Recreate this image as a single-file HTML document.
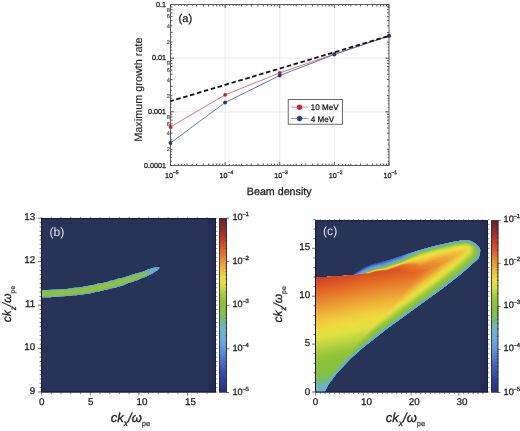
<!DOCTYPE html>
<html><head><meta charset="utf-8"><title>Growth rate figure</title>
<style>html,body{margin:0;padding:0;background:#fff;width:520px;height:431px;overflow:hidden}svg{display:block}text{text-rendering:geometricPrecision}</style>
</head><body><svg width="520" height="431" viewBox="0 0 520 431"><defs><linearGradient id="cm" x1="0" y1="1" x2="0" y2="0"><stop offset="0.000" stop-color="rgb(38,50,128)"/><stop offset="0.072" stop-color="rgb(47,64,158)"/><stop offset="0.130" stop-color="rgb(56,86,182)"/><stop offset="0.188" stop-color="rgb(75,115,205)"/><stop offset="0.249" stop-color="rgb(95,150,220)"/><stop offset="0.304" stop-color="rgb(105,170,225)"/><stop offset="0.362" stop-color="rgb(108,180,205)"/><stop offset="0.390" stop-color="rgb(110,182,170)"/><stop offset="0.420" stop-color="rgb(115,185,120)"/><stop offset="0.449" stop-color="rgb(128,192,80)"/><stop offset="0.500" stop-color="rgb(136,192,60)"/><stop offset="0.536" stop-color="rgb(144,196,60)"/><stop offset="0.565" stop-color="rgb(168,204,64)"/><stop offset="0.594" stop-color="rgb(200,216,64)"/><stop offset="0.622" stop-color="rgb(224,224,64)"/><stop offset="0.651" stop-color="rgb(238,220,64)"/><stop offset="0.680" stop-color="rgb(240,204,60)"/><stop offset="0.709" stop-color="rgb(240,184,58)"/><stop offset="0.738" stop-color="rgb(236,160,53)"/><stop offset="0.767" stop-color="rgb(232,136,48)"/><stop offset="0.796" stop-color="rgb(228,112,40)"/><stop offset="0.825" stop-color="rgb(220,90,40)"/><stop offset="0.854" stop-color="rgb(208,69,37)"/><stop offset="0.883" stop-color="rgb(192,58,37)"/><stop offset="0.912" stop-color="rgb(168,48,40)"/><stop offset="0.940" stop-color="rgb(144,42,46)"/><stop offset="0.970" stop-color="rgb(122,37,48)"/><stop offset="1.000" stop-color="rgb(106,32,48)"/></linearGradient></defs><rect x="0" y="0" width="520" height="431" fill="#fff"/><path d="M225.12 4.5V165.5M279.75 4.5V165.5M334.38 4.5V165.5M170.5 111.83H389.0M170.5 58.17H389.0" stroke="#e6e6e6" stroke-width="0.8" fill="none"/><path d="M170.50 165.5v-3.5M170.50 4.5v3.5M174.83 165.5v-1.3M174.83 4.5v1.3M178.48 165.5v-1.3M178.48 4.5v1.3M181.65 165.5v-1.3M181.65 4.5v1.3M184.44 165.5v-1.3M184.44 4.5v1.3M186.94 165.5v-2M186.94 4.5v2M192.24 165.5v-1.3M192.24 4.5v1.3M196.56 165.5v-2M196.56 4.5v2M203.39 165.5v-2M203.39 4.5v2M208.68 165.5v-2M208.68 4.5v2M213.01 165.5v-2M213.01 4.5v2M216.66 165.5v-2M216.66 4.5v2M219.83 165.5v-2M219.83 4.5v2M222.63 165.5v-2M222.63 4.5v2M225.12 165.5v-3.5M225.12 4.5v3.5M229.45 165.5v-1.3M229.45 4.5v1.3M233.11 165.5v-1.3M233.11 4.5v1.3M236.28 165.5v-1.3M236.28 4.5v1.3M239.07 165.5v-1.3M239.07 4.5v1.3M241.57 165.5v-2M241.57 4.5v2M246.86 165.5v-1.3M246.86 4.5v1.3M251.19 165.5v-2M251.19 4.5v2M258.01 165.5v-2M258.01 4.5v2M263.31 165.5v-2M263.31 4.5v2M267.63 165.5v-2M267.63 4.5v2M271.29 165.5v-2M271.29 4.5v2M274.46 165.5v-2M274.46 4.5v2M277.25 165.5v-2M277.25 4.5v2M279.75 165.5v-3.5M279.75 4.5v3.5M284.08 165.5v-1.3M284.08 4.5v1.3M287.73 165.5v-1.3M287.73 4.5v1.3M290.90 165.5v-1.3M290.90 4.5v1.3M293.69 165.5v-1.3M293.69 4.5v1.3M296.19 165.5v-2M296.19 4.5v2M301.49 165.5v-1.3M301.49 4.5v1.3M305.81 165.5v-2M305.81 4.5v2M312.64 165.5v-2M312.64 4.5v2M317.93 165.5v-2M317.93 4.5v2M322.26 165.5v-2M322.26 4.5v2M325.91 165.5v-2M325.91 4.5v2M329.08 165.5v-2M329.08 4.5v2M331.88 165.5v-2M331.88 4.5v2M334.38 165.5v-3.5M334.38 4.5v3.5M338.70 165.5v-1.3M338.70 4.5v1.3M342.36 165.5v-1.3M342.36 4.5v1.3M345.53 165.5v-1.3M345.53 4.5v1.3M348.32 165.5v-1.3M348.32 4.5v1.3M350.82 165.5v-2M350.82 4.5v2M356.11 165.5v-1.3M356.11 4.5v1.3M360.44 165.5v-2M360.44 4.5v2M367.26 165.5v-2M367.26 4.5v2M372.56 165.5v-2M372.56 4.5v2M376.88 165.5v-2M376.88 4.5v2M380.54 165.5v-2M380.54 4.5v2M383.71 165.5v-2M383.71 4.5v2M386.50 165.5v-2M386.50 4.5v2M389.00 165.5v-3.5M389.00 4.5v3.5M170.5 165.50h3.5M389.0 165.50h-3.5M170.5 161.25h1.3M389.0 161.25h-1.3M170.5 157.66h1.3M389.0 157.66h-1.3M170.5 154.55h1.3M389.0 154.55h-1.3M170.5 151.80h1.3M389.0 151.80h-1.3M170.5 149.34h2M389.0 149.34h-2M170.5 144.14h1.3M389.0 144.14h-1.3M170.5 139.89h2M389.0 139.89h-2M170.5 133.19h2M389.0 133.19h-2M170.5 127.99h2M389.0 127.99h-2M170.5 123.74h2M389.0 123.74h-2M170.5 120.15h2M389.0 120.15h-2M170.5 117.03h2M389.0 117.03h-2M170.5 114.29h2M389.0 114.29h-2M170.5 111.83h3.5M389.0 111.83h-3.5M170.5 107.58h1.3M389.0 107.58h-1.3M170.5 103.99h1.3M389.0 103.99h-1.3M170.5 100.88h1.3M389.0 100.88h-1.3M170.5 98.13h1.3M389.0 98.13h-1.3M170.5 95.68h2M389.0 95.68h-2M170.5 90.48h1.3M389.0 90.48h-1.3M170.5 86.23h2M389.0 86.23h-2M170.5 79.52h2M389.0 79.52h-2M170.5 74.32h2M389.0 74.32h-2M170.5 70.07h2M389.0 70.07h-2M170.5 66.48h2M389.0 66.48h-2M170.5 63.37h2M389.0 63.37h-2M170.5 60.62h2M389.0 60.62h-2M170.5 58.17h3.5M389.0 58.17h-3.5M170.5 53.92h1.3M389.0 53.92h-1.3M170.5 50.32h1.3M389.0 50.32h-1.3M170.5 47.21h1.3M389.0 47.21h-1.3M170.5 44.47h1.3M389.0 44.47h-1.3M170.5 42.01h2M389.0 42.01h-2M170.5 36.81h1.3M389.0 36.81h-1.3M170.5 32.56h2M389.0 32.56h-2M170.5 25.86h2M389.0 25.86h-2M170.5 20.66h2M389.0 20.66h-2M170.5 16.41h2M389.0 16.41h-2M170.5 12.81h2M389.0 12.81h-2M170.5 9.70h2M389.0 9.70h-2M170.5 6.96h2M389.0 6.96h-2" stroke="#222" stroke-width="0.8" fill="none"/><rect x="170.5" y="4.5" width="218.5" height="161.0" fill="none" stroke="#555" stroke-width="0.95"/><g style="font-family:'Liberation Sans',Arial,sans-serif;font-size:5.6px" fill="#444" stroke="#444" stroke-width="0.15" text-anchor="end"><text x="169.90" y="151.34">2</text><text x="169.90" y="135.19">4</text><text x="169.90" y="125.74">6</text><text x="169.90" y="119.03">8</text><text x="169.90" y="97.68">2</text><text x="169.90" y="81.52">4</text><text x="169.90" y="72.07">6</text><text x="169.90" y="65.37">8</text><text x="169.90" y="44.01">2</text><text x="169.90" y="27.86">4</text><text x="169.90" y="18.41">6</text><text x="169.90" y="11.70">8</text></g><g style="font-family:'Liberation Sans',Arial,sans-serif;font-size:7.2px" fill="#1a1a1a" stroke="#1a1a1a" stroke-width="0.28" text-anchor="end"><text x="166.00" y="6.60">0.1</text><text x="166.00" y="60.27">0.01</text><text x="166.00" y="113.93">0.001</text><text x="166.00" y="167.60">0.0001</text></g><g style="font-family:'Liberation Sans',Arial,sans-serif;font-size:7.2px" fill="#1a1a1a" stroke="#1a1a1a" stroke-width="0.28"><text x="164.90" y="178.00">10<tspan dy="-3.6" style="font-size:5px">&#8722;5</tspan></text><text x="219.53" y="178.00">10<tspan dy="-3.6" style="font-size:5px">&#8722;4</tspan></text><text x="274.15" y="178.00">10<tspan dy="-3.6" style="font-size:5px">&#8722;3</tspan></text><text x="328.77" y="178.00">10<tspan dy="-3.6" style="font-size:5px">&#8722;2</tspan></text><text x="383.40" y="178.00">10<tspan dy="-3.6" style="font-size:5px">&#8722;1</tspan></text></g><text x="279.2" y="194.8" text-anchor="middle" style="font-family:'Liberation Sans',Arial,sans-serif;font-size:10.7px" fill="#1a1a1a" stroke="#1a1a1a" stroke-width="0.28">Beam density</text><text transform="translate(142.0 89.6) rotate(-90)" text-anchor="middle" style="font-family:'Liberation Sans',Arial,sans-serif;font-size:10.85px" fill="#1a1a1a" stroke="#1a1a1a" stroke-width="0.12">Maximum growth rate</text><text x="178.5" y="22.4" style="font-family:'Liberation Sans',Arial,sans-serif;font-size:11.2px" fill="#1a1a1a" stroke="#1a1a1a" stroke-width="0.28">(a)</text><path d="M170.50 126.91L225.12 94.82L279.75 72.92L334.38 54.09L389.00 35.73" stroke="#e06060" stroke-width="0.9" fill="none"/><path d="M170.50 143.01L225.12 102.50L279.75 75.50L334.38 54.52L389.00 35.90" stroke="#4a6ab0" stroke-width="0.9" fill="none"/><circle cx="170.50" cy="126.91" r="1.9" fill="#b8262e"/><circle cx="225.12" cy="94.82" r="1.9" fill="#b8262e"/><circle cx="279.75" cy="72.92" r="1.9" fill="#b8262e"/><circle cx="334.38" cy="54.09" r="1.9" fill="#b8262e"/><circle cx="389.00" cy="35.73" r="1.9" fill="#b8262e"/><circle cx="170.50" cy="143.01" r="1.9" fill="#24388a"/><circle cx="225.12" cy="102.50" r="1.9" fill="#24388a"/><circle cx="279.75" cy="75.50" r="1.9" fill="#24388a"/><circle cx="334.38" cy="54.52" r="1.9" fill="#24388a"/><circle cx="389.00" cy="35.90" r="1.9" fill="#24388a"/><path d="M170.5 101.2L389.0 35.9" stroke="#111" stroke-dasharray="4.6 2.6" stroke-dashoffset="1.2" stroke-width="1.8" fill="none"/><rect x="288.2" y="99.6" width="54.4" height="24.6" fill="#fff" stroke="#444" stroke-width="0.8"/><path d="M291 107.2H308.3" stroke="#e88a8a" stroke-width="0.9"/><circle cx="299.6" cy="107.2" r="2.7" fill="#d42630"/><path d="M291 118.5H308.3" stroke="#7088c0" stroke-width="0.9"/><circle cx="299.6" cy="118.5" r="2.7" fill="#2a3f8f"/><g style="font-family:'Liberation Sans',Arial,sans-serif;font-size:8.1px" fill="#1a1a1a" stroke="#1a1a1a" stroke-width="0.28"><text x="310.8" y="110.2">10 MeV</text><text x="310.8" y="121.5">4 MeV</text></g><rect x="41.0" y="218.0" width="175.0" height="174.5" fill="#283358"/><rect x="315.0" y="220.2" width="173.0" height="172.3" fill="#283358"/><rect x="208.0" y="218.0" width="8" height="174.5" fill="#1a2248" opacity="0.3"/><rect x="480.0" y="220.2" width="8" height="172.3" fill="#1a2248" opacity="0.3"/><defs><clipPath id="clipb"><rect x="41.0" y="218.0" width="175.0" height="174.5"/></clipPath><filter id="blb" x="-5%" y="-5%" width="110%" height="110%"><feGaussianBlur stdDeviation="0.45"/></filter></defs><g clip-path="url(#clipb)"><g filter="url(#blb)"><path d="M159.5 267.8 158.5 267.2 153.8 267.8 147.2 269.8 143.8 271.5 135.2 273.8 123.2 277.8 117.8 278.8 112.2 280.8 110.2 280.8 106.8 282.2 104.8 282.2 102.5 283.2 97.2 283.8 94.8 284.8 90.8 285.2 89.2 285.8 85.2 286.2 83.8 286.8 77.5 287.8 74.5 287.8 65.5 289.2 41.2 290.2 41.2 297.2 51.2 297.2 51.5 296.8 57.8 296.8 58.2 296.5 70.8 295.8 73.5 295.2 76.2 295.2 90.5 293.2 91.8 292.5 93.8 292.5 97.2 291.5 99.2 291.5 100.5 290.8 102.5 290.8 104.8 289.8 106.8 289.8 110.2 288.5 115.5 287.5 123.2 285.2 128.8 282.8 132.8 281.8 135.2 280.5 137.2 280.2 142.8 277.5 143.8 277.5 152.8 273.2 155.5 271.2 157.2 270.5Z" fill="#5d93db" fill-rule="evenodd"/><path d="M159.5 267.8 158.5 267.2 153.8 267.8 147.2 269.8 143.8 271.5 135.2 273.8 123.2 277.8 117.8 278.8 112.2 280.8 110.2 280.8 106.8 282.2 104.8 282.2 102.5 283.2 97.2 283.8 94.8 284.8 90.8 285.2 89.2 285.8 85.2 286.2 83.8 286.8 77.5 287.8 74.5 287.8 65.5 289.2 41.2 290.2 41.2 297.2 51.2 297.2 51.5 296.8 57.8 296.8 58.2 296.5 70.8 295.8 73.5 295.2 76.2 295.2 90.5 293.2 91.8 292.5 93.8 292.5 97.2 291.5 99.2 291.5 100.5 290.8 102.5 290.8 104.8 289.8 106.8 289.8 110.2 288.5 115.5 287.5 123.2 285.2 128.8 282.8 132.8 281.8 135.2 280.5 137.2 280.2 142.8 277.5 143.8 277.5 152.8 273.2 155.5 271.2 157.2 270.5Z" fill="#6099dd" fill-rule="evenodd"/><path d="M159.5 267.8 158.5 267.2 153.8 267.8 147.2 269.8 143.8 271.5 135.2 273.8 123.2 277.8 117.8 278.8 112.2 280.8 110.2 280.8 106.8 282.2 104.8 282.2 102.5 283.2 97.2 283.8 94.8 284.8 90.8 285.2 89.2 285.8 85.2 286.2 83.8 286.8 77.5 287.8 74.5 287.8 65.5 289.2 41.2 290.2 41.2 297.2 51.2 297.2 51.5 296.8 57.8 296.8 58.2 296.5 70.8 295.8 73.5 295.2 76.2 295.2 90.5 293.2 91.8 292.5 93.8 292.5 97.2 291.5 99.2 291.5 100.5 290.8 102.5 290.8 104.8 289.8 106.8 289.8 110.2 288.5 115.5 287.5 123.2 285.2 128.8 282.8 132.8 281.8 135.2 280.5 137.2 280.2 142.8 277.5 143.8 277.5 152.8 273.2 155.5 271.2 157.2 270.5Z" fill="#639dde" fill-rule="evenodd"/><path d="M159.5 267.8 158.5 267.2 153.8 267.8 147.2 269.8 143.8 271.5 135.2 273.8 123.2 277.8 117.8 278.8 112.2 280.8 110.2 280.8 106.8 282.2 104.8 282.2 102.5 283.2 97.2 283.8 94.8 284.8 90.8 285.2 89.2 285.8 85.2 286.2 83.8 286.8 77.5 287.8 74.5 287.8 65.5 289.2 41.2 290.2 41.2 297.2 51.2 297.2 51.5 296.8 57.8 296.8 58.2 296.5 70.8 295.8 73.5 295.2 76.2 295.2 90.5 293.2 91.8 292.5 93.8 292.5 97.2 291.5 99.2 291.5 100.5 290.8 102.5 290.8 104.8 289.8 106.8 289.8 110.2 288.5 115.5 287.5 123.2 285.2 128.8 282.8 132.8 281.8 135.2 280.5 137.2 280.2 142.8 277.5 143.8 277.5 152.8 273.2 155.5 271.2 157.2 270.5Z" fill="#65a2df" fill-rule="evenodd"/><path d="M159.5 267.8 158.5 267.2 153.8 267.8 147.2 269.8 143.8 271.5 135.2 273.8 123.2 277.8 117.8 278.8 112.2 280.8 110.2 280.8 106.8 282.2 104.8 282.2 102.5 283.2 97.2 283.8 94.8 284.8 90.8 285.2 89.2 285.8 85.2 286.2 83.8 286.8 77.5 287.8 74.5 287.8 65.5 289.2 41.2 290.2 41.2 297.2 51.2 297.2 51.5 296.8 57.8 296.8 58.2 296.5 70.8 295.8 73.5 295.2 76.2 295.2 90.5 293.2 91.8 292.5 93.8 292.5 97.2 291.5 99.2 291.5 100.5 290.8 102.5 290.8 104.8 289.8 106.8 289.8 110.2 288.5 115.5 287.5 123.2 285.2 128.8 282.8 132.8 281.8 135.2 280.5 137.2 280.2 142.8 277.5 143.8 277.5 152.8 273.2 155.5 271.2 157.2 270.5Z" fill="#67a6e0" fill-rule="evenodd"/><path d="M158.2 268.2 156.2 268.2 147.5 270.5 144.2 272.2 121.2 279.2 118.2 279.5 112.5 281.5 110.5 281.5 107.2 282.8 105.2 282.8 102.8 283.8 97.5 284.5 95.2 285.5 91.2 285.8 89.5 286.5 85.5 286.8 84.2 287.5 77.8 288.5 74.8 288.5 65.8 289.8 41.2 290.8 41.2 296.5 50.8 296.5 51.2 296.2 57.5 296.2 57.8 295.8 70.5 295.2 73.2 294.5 75.8 294.5 90.2 292.5 91.5 291.8 93.5 291.8 96.8 290.8 98.8 290.8 100.2 290.2 102.2 290.2 104.5 289.2 106.5 289.2 109.8 287.8 115.2 286.8 122.8 284.5 128.5 282.2 132.5 281.2 134.8 279.8 136.8 279.5 142.5 276.8 143.5 276.8 152.5 272.5 155.2 270.5 156.8 269.8Z" fill="#69aae0" fill-rule="evenodd"/><path d="M154.5 268.5 147.5 270.5 144.2 272.2 135.5 274.5 123.5 278.5 118.2 279.5 112.5 281.5 110.5 281.5 107.2 282.8 105.2 282.8 102.8 283.8 97.5 284.5 95.2 285.5 91.2 285.8 89.5 286.5 85.5 286.8 84.2 287.5 77.8 288.5 74.8 288.5 65.8 289.8 41.2 290.8 41.2 296.5 50.8 296.5 51.2 296.2 57.5 296.2 57.8 295.8 70.5 295.2 73.2 294.5 75.8 294.5 90.2 292.5 91.5 291.8 93.5 291.8 96.8 290.8 98.8 290.8 100.2 290.2 102.2 290.2 104.5 289.2 106.5 289.2 109.8 287.8 115.2 286.8 122.8 284.5 128.5 282.2 132.5 281.2 134.8 279.8 136.8 279.5 142.5 276.8 143.5 276.8 154.5 271.2Z" fill="#6aaddc" fill-rule="evenodd"/><path d="M153.8 268.8 147.5 270.5 144.2 272.2 121.2 279.2 118.2 279.5 112.5 281.5 110.5 281.5 107.2 282.8 105.2 282.8 102.8 283.8 97.5 284.5 95.2 285.5 91.2 285.8 89.5 286.5 85.5 286.8 84.2 287.5 77.8 288.5 74.8 288.5 65.8 289.8 41.2 290.8 41.2 296.5 50.8 296.5 51.2 296.2 57.5 296.2 57.8 295.8 70.5 295.2 73.2 294.5 75.8 294.5 90.2 292.5 91.5 291.8 93.5 291.8 96.8 290.8 98.8 290.8 100.2 290.2 102.2 290.2 104.5 289.2 106.5 289.2 109.8 287.8 115.2 286.8 122.8 284.5 128.5 282.2 132.5 281.2 134.8 279.8 136.8 279.5 142.5 276.8 143.5 276.8 153.5 271.8Z" fill="#6aafd8" fill-rule="evenodd"/><path d="M152.8 269.2 147.5 270.5 144.2 272.2 121.2 279.2 118.2 279.5 112.5 281.5 110.5 281.5 107.2 282.8 105.2 282.8 102.8 283.8 97.5 284.5 95.2 285.5 91.2 285.8 89.5 286.5 85.5 286.8 84.2 287.5 77.8 288.5 74.8 288.5 65.8 289.8 41.2 290.8 41.2 296.5 50.8 296.5 51.2 296.2 57.5 296.2 57.8 295.8 70.5 295.2 73.2 294.5 75.8 294.5 90.2 292.5 91.5 291.8 93.5 291.8 96.8 290.8 98.8 290.8 100.2 290.2 102.2 290.2 104.5 289.2 106.5 289.2 109.8 287.8 115.2 286.8 122.8 284.5 128.5 282.2 132.5 281.2 134.8 279.8 136.8 279.5 142.5 276.8 143.5 276.8 152.5 272.5Z" fill="#6bb1d3" fill-rule="evenodd"/><path d="M152.2 269.2 147.8 270.5 144.5 272.2 135.8 274.5 123.8 278.5 118.5 279.5 112.8 281.5 110.8 281.5 107.5 282.8 105.5 282.8 103.2 283.8 97.8 284.5 95.5 285.5 91.5 285.8 89.8 286.5 85.8 286.8 84.5 287.5 78.2 288.5 75.2 288.5 66.2 289.8 41.2 290.8 41.2 296.5 50.5 296.5 50.8 296.2 57.2 296.2 57.5 295.8 70.2 295.2 72.8 294.5 75.5 294.5 89.8 292.5 91.2 291.8 93.2 291.8 96.5 290.8 98.5 290.8 99.8 290.2 101.8 290.2 104.2 289.2 106.2 289.2 109.5 287.8 114.8 286.8 122.5 284.5 128.2 282.2 132.2 281.2 134.5 279.8 136.5 279.5 142.2 276.8 143.2 276.8 152.2 272.5Z" fill="#6cb3cf" fill-rule="evenodd"/><path d="M151.5 269.5 147.2 270.8 143.8 272.5 135.2 274.8 123.2 278.8 117.8 279.8 112.2 281.8 110.2 281.8 106.8 283.2 104.8 283.2 102.5 284.2 97.2 284.8 94.8 285.8 90.8 286.2 89.2 286.8 85.2 287.2 83.8 287.8 77.5 288.8 74.5 288.8 65.5 290.2 41.2 291.2 41.2 296.2 51.2 296.2 51.5 295.8 57.8 295.8 58.2 295.5 70.8 294.8 73.5 294.2 76.2 294.2 90.5 292.2 91.8 291.5 93.8 291.5 97.2 290.5 99.2 290.5 100.5 289.8 102.5 289.8 104.8 288.8 106.8 288.8 110.2 287.5 115.5 286.5 123.2 284.2 128.8 281.8 132.8 280.8 135.2 279.5 137.2 279.2 142.8 276.5 143.8 276.5 151.2 272.8Z" fill="#6cb4c5" fill-rule="evenodd"/><path d="M150.8 269.8 147.5 270.8 144.2 272.5 135.5 274.8 123.5 278.8 118.2 279.8 112.5 281.8 110.5 281.8 107.2 283.2 105.2 283.2 102.8 284.2 97.5 284.8 95.2 285.8 91.2 286.2 89.5 286.8 85.5 287.2 84.2 287.8 77.8 288.8 74.8 288.8 65.8 290.2 41.2 291.2 41.2 296.2 50.8 296.2 51.2 295.8 57.5 295.8 57.8 295.5 70.5 294.8 73.2 294.2 75.8 294.2 90.2 292.2 91.5 291.5 93.5 291.5 96.8 290.5 98.8 290.5 100.2 289.8 102.2 289.8 104.5 288.8 106.5 288.8 109.8 287.5 115.2 286.5 122.8 284.2 128.5 281.8 132.5 280.8 134.8 279.5 136.8 279.2 142.5 276.5 143.5 276.5 150.8 272.8Z" fill="#6db5b5" fill-rule="evenodd"/><path d="M150.2 270.2 147.5 270.8 144.2 272.5 121.2 279.5 118.2 279.8 112.5 281.8 110.5 281.8 107.2 283.2 105.2 283.2 102.8 284.2 97.5 284.8 95.2 285.8 91.2 286.2 89.5 286.8 85.5 287.2 84.2 287.8 77.8 288.8 74.8 288.8 65.8 290.2 41.2 291.2 41.2 296.2 50.8 296.2 51.2 295.8 57.5 295.8 57.8 295.5 70.5 294.8 73.2 294.2 75.8 294.2 90.2 292.2 91.5 291.5 93.5 291.5 96.8 290.5 98.8 290.5 100.2 289.8 102.2 289.8 104.5 288.8 106.5 288.8 109.8 287.5 115.2 286.5 122.8 284.2 128.5 281.8 132.5 280.8 134.8 279.5 136.8 279.2 142.5 276.5 143.5 276.5 150.2 273.2Z" fill="#6fb6a4" fill-rule="evenodd"/><path d="M149.5 270.5 121.2 279.5 118.2 279.8 112.5 281.8 110.5 281.8 107.2 283.2 105.2 283.2 102.8 284.2 97.5 284.8 95.2 285.8 91.2 286.2 89.5 286.8 85.5 287.2 84.2 287.8 77.8 288.8 74.8 288.8 65.8 290.2 41.2 291.2 41.2 296.2 50.8 296.2 51.2 295.8 57.5 295.8 57.8 295.5 70.5 294.8 73.2 294.2 75.8 294.2 90.2 292.2 91.5 291.5 93.5 291.5 96.8 290.5 98.8 290.5 100.2 289.8 102.2 289.8 104.5 288.8 106.5 288.8 109.8 287.5 115.2 286.5 122.8 284.2 128.5 281.8 132.5 280.8 134.8 279.5 136.8 279.2 142.5 276.5 143.5 276.5 149.2 273.8Z" fill="#71b88f" fill-rule="evenodd"/><path d="M148.5 270.8 144.5 272.5 121.5 279.5 118.5 279.8 112.8 281.8 110.8 281.8 107.5 283.2 105.5 283.2 103.2 284.2 97.8 284.8 95.5 285.8 91.5 286.2 89.8 286.8 85.8 287.2 84.5 287.8 78.2 288.8 75.2 288.8 66.2 290.2 41.2 291.2 41.2 296.2 50.5 296.2 50.8 295.8 57.2 295.8 57.5 295.5 70.2 294.8 72.8 294.2 75.5 294.2 89.8 292.2 91.2 291.5 93.2 291.5 96.5 290.5 98.5 290.5 99.8 289.8 101.8 289.8 104.2 288.8 106.2 288.8 109.5 287.5 114.8 286.5 122.5 284.2 128.2 281.8 132.2 280.8 134.5 279.5 136.5 279.2 142.2 276.5 143.2 276.5 148.5 273.8Z" fill="#73b97a" fill-rule="evenodd"/><path d="M147.8 270.8 145.5 272.2 123.8 278.8 118.5 279.8 112.8 281.8 110.8 281.8 107.5 283.2 105.5 283.2 103.2 284.2 97.8 284.8 95.5 285.8 91.5 286.2 89.8 286.8 85.8 287.2 84.5 287.8 78.2 288.8 75.2 288.8 66.2 290.2 41.2 291.2 41.2 296.2 50.5 296.2 50.8 295.8 57.2 295.8 57.5 295.5 70.2 294.8 72.8 294.2 75.5 294.2 89.8 292.2 91.2 291.5 93.2 291.5 96.5 290.5 98.5 290.5 99.8 289.8 101.8 289.8 104.2 288.8 106.2 288.8 109.5 287.5 114.8 286.5 122.5 284.2 128.2 281.8 132.2 280.8 134.5 279.5 136.5 279.2 142.2 276.5 143.2 276.5 147.8 274.2Z" fill="#78bc68" fill-rule="evenodd"/><path d="M147.2 271.2 144.8 272.5 123.2 279.2 117.8 280.2 112.2 282.2 110.2 282.2 106.8 283.5 104.8 283.5 102.5 284.5 97.2 285.2 94.8 286.2 90.8 286.5 89.2 287.2 85.2 287.5 83.8 288.2 77.5 289.2 74.5 289.2 65.5 290.5 41.2 291.5 41.2 295.8 51.2 295.8 51.5 295.5 57.8 295.5 58.2 295.2 70.8 294.5 73.5 293.8 76.2 293.8 90.5 291.8 91.8 291.2 93.8 291.2 97.2 290.2 99.2 290.2 100.5 289.5 102.5 289.5 104.8 288.5 106.8 288.5 110.2 287.2 115.5 286.2 123.2 283.8 128.8 281.5 132.8 280.5 135.2 279.2 137.2 278.8 142.8 276.2 143.8 276.2 147.2 274.5Z" fill="#7ebf57" fill-rule="evenodd"/><path d="M146.5 271.8 121.2 279.8 118.2 280.2 112.5 282.2 110.5 282.2 107.2 283.5 105.2 283.5 102.8 284.5 97.5 285.2 95.2 286.2 91.2 286.5 89.5 287.2 85.5 287.5 84.2 288.2 77.8 289.2 74.8 289.2 65.8 290.5 41.2 291.5 41.2 295.8 50.8 295.8 51.2 295.5 57.5 295.5 57.8 295.2 70.5 294.5 73.2 293.8 75.8 293.8 90.2 291.8 91.5 291.2 93.5 291.2 96.8 290.2 98.8 290.2 100.2 289.5 102.2 289.5 104.5 288.5 106.5 288.5 112.2 286.5 113.8 286.5 126.8 282.5 128.5 281.5 132.5 280.5 134.8 279.2 136.8 278.8 146.2 274.8Z" fill="#81c04d" fill-rule="evenodd"/><path d="M145.8 272.2 121.2 279.8 118.2 280.2 112.5 282.2 110.5 282.2 107.2 283.5 105.2 283.5 102.8 284.5 97.5 285.2 95.2 286.2 91.2 286.5 89.5 287.2 85.5 287.5 84.2 288.2 77.8 289.2 74.8 289.2 65.8 290.5 41.2 291.5 41.2 295.8 50.8 295.8 51.2 295.5 57.5 295.5 57.8 295.2 70.5 294.5 73.2 293.8 75.8 293.8 90.2 291.8 91.5 291.2 93.5 291.2 96.8 290.2 98.8 290.2 100.2 289.5 102.2 289.5 104.5 288.5 106.5 288.5 112.2 286.5 113.8 286.5 126.8 282.5 128.5 281.5 132.5 280.5 134.8 279.2 136.8 278.8 145.5 275.2Z" fill="#83c048" fill-rule="evenodd"/><path d="M145.2 272.5 121.5 279.8 118.5 280.2 112.8 282.2 110.8 282.2 107.5 283.5 105.5 283.5 103.2 284.5 97.8 285.2 95.5 286.2 91.5 286.5 89.8 287.2 85.8 287.5 84.5 288.2 78.2 289.2 75.2 289.2 66.2 290.5 41.2 291.5 41.2 295.8 50.5 295.8 50.8 295.5 57.2 295.5 57.5 295.2 70.2 294.5 72.8 293.8 75.5 293.8 89.8 291.8 91.2 291.2 93.2 291.2 96.5 290.2 98.5 290.2 99.8 289.5 101.8 289.5 104.2 288.5 106.2 288.5 111.8 286.5 113.5 286.5 126.5 282.5 128.2 281.5 132.2 280.5 134.5 279.2 136.5 278.8 145.2 275.2Z" fill="#85c043" fill-rule="evenodd"/><path d="M144.2 272.8 112.8 282.2 110.8 282.2 107.5 283.5 105.5 283.5 103.2 284.5 101.2 284.5 99.8 285.2 97.8 285.2 95.5 286.2 91.5 286.5 89.8 287.2 85.8 287.5 84.5 288.2 66.2 290.5 41.2 291.5 41.2 295.8 50.5 295.8 50.8 295.5 57.2 295.5 57.5 295.2 70.2 294.5 72.8 293.8 75.5 293.8 89.8 291.8 91.2 291.2 93.2 291.2 96.5 290.2 98.5 290.2 99.8 289.5 101.8 289.5 104.2 288.5 106.2 288.5 111.8 286.5 113.5 286.5 126.5 282.5 128.2 281.5 132.2 280.5 134.5 279.2 136.5 278.8 142.2 276.2 143.8 275.8Z" fill="#87c03e" fill-rule="evenodd"/><path d="M143.5 272.8 121.5 279.8 118.5 280.2 112.8 282.2 110.8 282.2 107.5 283.5 105.5 283.5 103.2 284.5 97.8 285.2 95.5 286.2 91.5 286.5 89.8 287.2 85.8 287.5 84.5 288.2 78.2 289.2 75.2 289.2 66.2 290.5 41.2 291.5 41.2 295.8 50.5 295.8 50.8 295.5 57.2 295.5 57.5 295.2 70.2 294.5 72.8 293.8 75.5 293.8 89.8 291.8 91.2 291.2 93.2 291.2 96.5 290.2 98.5 290.2 99.8 289.5 101.8 289.5 104.2 288.5 106.2 288.5 111.8 286.5 113.5 286.5 126.5 282.5 128.2 281.5 132.2 280.5 134.5 279.2 136.5 278.8 142.2 276.2 143.2 276.2Z" fill="#89c13c" fill-rule="evenodd"/><path d="M142.8 273.5 121.2 280.2 118.2 280.5 112.5 282.5 110.5 282.5 107.2 283.8 105.2 283.8 102.8 284.8 100.8 284.8 99.5 285.5 97.5 285.5 95.2 286.5 91.2 286.8 89.5 287.5 85.5 287.8 84.2 288.5 65.8 290.8 41.2 291.8 41.2 295.5 50.8 295.5 51.2 295.2 57.5 295.2 57.8 294.8 70.5 294.2 73.2 293.5 75.8 293.5 90.2 291.5 91.5 290.8 93.5 290.8 96.8 289.8 98.8 289.8 100.2 289.2 102.2 289.2 104.5 288.2 106.5 288.2 112.2 286.2 113.8 286.2 126.8 282.2 128.5 281.2 132.5 280.2 134.8 278.8 136.8 278.5 142.8 275.8Z" fill="#8cc23c" fill-rule="evenodd"/><path d="M142.2 273.5 123.5 279.5 118.2 280.5 112.5 282.5 110.5 282.5 107.2 283.8 105.2 283.8 102.8 284.8 100.8 284.8 99.5 285.5 97.5 285.5 95.2 286.5 91.2 286.8 89.5 287.5 85.5 287.8 84.2 288.5 65.8 290.8 41.2 291.8 41.2 295.5 50.8 295.5 51.2 295.2 57.5 295.2 57.8 294.8 70.5 294.2 73.2 293.5 75.8 293.5 90.2 291.5 91.5 290.8 93.5 290.8 96.8 289.8 98.8 289.8 100.2 289.2 102.2 289.2 104.5 288.2 106.5 288.2 112.2 286.2 113.8 286.2 126.8 282.2 128.5 281.2 132.5 280.2 134.8 278.8 136.8 278.5 142.2 276.2Z" fill="#8fc33c" fill-rule="evenodd"/></g></g><defs><clipPath id="clipc"><rect x="315.0" y="220.2" width="173.0" height="172.3"/></clipPath><filter id="blc" x="-5%" y="-5%" width="110%" height="110%"><feGaussianBlur stdDeviation="0.45"/></filter></defs><g clip-path="url(#clipc)"><g filter="url(#blc)"><path d="M478.2 246.4 474.9 243.3 470.8 241.1 464.9 240.1 453.8 241.8 424.4 248.8 387.6 260.6 370.4 264.9 362.9 268.4 351.9 275.4 315.1 277.8 315.1 392.4 324.1 392.4 328.2 384.6 337.2 372.4 351.1 357.9 362.6 347.8 386.8 328.8 443.9 287.3 462.6 272.6 478.2 258.6 479.8 254.4 480.2 249.9 479.8 248.4Z" fill="#2f419f" fill-rule="evenodd"/><path d="M478.2 246.4 474.9 243.3 470.8 241.1 464.9 240.1 453.8 241.8 424.4 248.8 387.6 260.6 370.4 264.9 362.9 268.4 351.9 275.4 315.1 277.8 315.1 392.4 324.1 392.4 328.2 384.6 337.2 372.4 351.1 357.9 362.6 347.8 386.8 328.8 443.9 287.3 462.6 272.6 478.2 258.6 479.8 254.4 480.2 249.9 479.8 248.4Z" fill="#3145a3" fill-rule="evenodd"/><path d="M478.2 246.4 474.9 243.3 470.8 241.1 464.9 240.1 453.8 241.8 424.4 248.8 387.6 260.6 370.4 264.9 362.9 268.4 351.9 275.4 315.1 277.8 315.1 392.4 324.1 392.4 328.2 384.6 337.2 372.4 351.1 357.9 362.6 347.8 386.8 328.8 443.9 287.3 462.6 272.6 478.2 258.6 479.8 254.4 480.2 249.9 479.8 248.4Z" fill="#3349a8" fill-rule="evenodd"/><path d="M478.2 246.4 474.9 243.3 470.8 241.1 464.9 240.1 453.8 241.8 424.4 248.8 387.6 260.6 370.4 264.9 362.9 268.4 351.9 275.4 315.1 277.8 315.1 392.4 324.1 392.4 328.2 384.6 337.2 372.4 351.1 357.9 362.6 347.8 386.8 328.8 443.9 287.3 462.6 272.6 478.2 258.6 479.8 254.4 480.2 249.9 479.8 248.4Z" fill="#344dac" fill-rule="evenodd"/><path d="M478.2 246.4 474.9 243.3 470.8 241.1 464.9 240.1 453.8 241.8 424.4 248.8 387.6 260.6 370.4 264.9 362.9 268.4 351.9 275.4 315.1 277.8 315.1 392.4 324.1 392.4 328.2 384.6 337.2 372.4 351.1 357.9 362.6 347.8 386.8 328.8 443.9 287.3 462.6 272.6 478.2 258.6 479.8 254.4 480.2 249.9 479.8 248.4Z" fill="#3650b0" fill-rule="evenodd"/><path d="M478.2 246.4 474.9 243.3 470.8 241.1 464.9 240.1 453.8 241.8 424.4 248.8 387.6 260.6 374.2 263.8 369.6 265.4 363.1 268.6 352.2 275.4 315.1 277.8 315.1 392.4 324.1 392.4 328.2 384.6 337.2 372.4 351.1 357.9 362.6 347.8 386.8 328.8 443.9 287.3 462.6 272.6 478.2 258.6 479.8 254.4 480.2 249.9 479.8 248.4Z" fill="#3754b4" fill-rule="evenodd"/><path d="M478.2 246.4 474.9 243.3 470.8 241.1 464.9 240.1 453.8 241.8 424.4 248.8 389.2 260.1 375.1 263.8 369.8 265.6 361.9 269.4 352.4 275.4 315.1 277.8 315.1 392.4 324.1 392.4 328.2 384.6 337.2 372.4 351.1 357.9 362.6 347.8 386.8 328.8 443.9 287.3 462.6 272.6 478.2 258.6 479.8 254.4 480.2 249.9 479.8 248.4Z" fill="#3a59b8" fill-rule="evenodd"/><path d="M478.2 246.4 474.9 243.3 470.8 241.1 464.9 240.1 453.8 241.8 424.4 248.8 383.1 262.1 373.8 264.4 369.4 265.9 363.2 268.9 352.6 275.4 315.1 277.8 315.1 392.4 324.1 392.4 328.2 384.6 337.2 372.4 351.1 357.9 362.6 347.8 386.8 328.8 443.9 287.3 462.6 272.6 478.2 258.6 479.8 254.4 480.2 249.9 479.8 248.4Z" fill="#3d5ebc" fill-rule="evenodd"/><path d="M478.2 246.4 474.9 243.3 470.8 241.1 464.9 240.1 453.8 241.8 424.4 248.8 407.1 254.1 383.8 262.1 371.9 265.3 363.2 269.1 352.9 275.4 315.1 277.8 315.1 392.4 324.1 392.4 328.2 384.6 337.2 372.4 351.1 357.9 362.6 347.8 386.8 328.8 443.9 287.3 462.6 272.6 478.2 258.6 479.8 254.4 480.2 249.9 479.8 248.4Z" fill="#4063c0" fill-rule="evenodd"/><path d="M478.2 246.4 474.9 243.3 470.8 241.1 464.9 240.1 453.8 241.8 424.4 248.8 396.9 257.4 382.4 262.8 373.9 264.8 363.6 269.1 353.1 275.4 315.1 277.8 315.1 392.4 324.1 392.4 328.2 384.6 337.2 372.4 351.1 357.9 362.6 347.8 386.8 328.8 443.9 287.3 462.6 272.6 478.2 258.6 479.8 254.4 480.2 249.9 479.8 248.4Z" fill="#4368c4" fill-rule="evenodd"/><path d="M478.2 246.4 474.9 243.3 470.8 241.1 464.9 240.1 453.8 241.8 424.4 248.8 401.6 255.9 383.8 262.6 373.6 265.1 368.6 266.9 362.4 269.9 353.1 275.4 315.1 277.8 315.1 392.4 324.1 392.4 328.2 384.6 337.2 372.4 351.1 357.9 362.6 347.8 386.8 328.8 443.9 287.3 462.6 272.6 478.2 258.6 479.8 254.4 480.2 249.9 479.8 248.4Z" fill="#476dc8" fill-rule="evenodd"/><path d="M478.2 246.4 474.9 243.3 470.8 241.1 464.9 240.1 453.8 241.8 436.6 245.6 420.4 249.9 403.1 255.4 398.6 257.6 383.9 262.8 373.2 265.4 368.6 267.1 362.4 270.1 353.9 275.3 315.1 277.8 315.1 392.4 324.1 392.4 328.2 384.6 337.2 372.4 351.1 357.9 362.6 347.8 386.8 328.8 443.9 287.3 462.6 272.6 478.2 258.6 479.8 254.4 480.2 249.9 479.8 248.4Z" fill="#4a72cc" fill-rule="evenodd"/><path d="M478.2 246.4 474.9 243.3 470.8 241.1 464.9 240.1 453.8 241.8 424.4 248.8 404.1 255.1 400.9 256.9 390.6 260.8 369.9 266.8 362.4 270.3 354.1 275.3 315.1 277.8 315.1 392.4 324.1 392.4 328.2 384.6 337.2 372.4 351.1 357.9 362.6 347.8 386.8 328.8 443.9 287.3 462.6 272.6 478.2 258.6 479.8 254.4 480.2 249.9 479.8 248.4Z" fill="#4d77cf" fill-rule="evenodd"/><path d="M478.2 246.4 474.9 243.3 470.8 241.1 464.9 240.1 453.8 241.8 424.4 248.8 405.1 254.8 401.6 256.9 387.9 261.9 374.6 265.4 368.8 267.4 361.6 270.9 354.4 275.3 315.1 277.8 315.1 392.4 324.1 392.4 328.2 384.6 337.2 372.4 351.1 357.9 362.6 347.8 386.8 328.8 443.9 287.3 462.6 272.6 478.2 258.6 479.8 254.4 480.2 249.9 479.8 248.4Z" fill="#517dd1" fill-rule="evenodd"/><path d="M478.2 246.4 474.9 243.3 470.8 241.1 464.9 240.1 453.8 241.8 432.6 246.6 406.6 254.3 400.9 257.4 389.6 261.6 370.1 267.1 364.1 269.8 354.6 275.3 315.1 277.8 315.1 392.4 324.1 392.4 328.2 384.6 337.2 372.4 351.1 357.9 362.6 347.8 386.8 328.8 443.9 287.3 462.6 272.6 478.2 258.6 479.8 254.4 480.2 249.9 479.8 248.4Z" fill="#5482d4" fill-rule="evenodd"/><path d="M478.2 246.4 474.9 243.3 470.8 241.1 464.9 240.1 453.8 241.8 432.6 246.6 407.8 253.9 401.1 257.6 390.2 261.6 368.9 267.8 361.9 271.1 354.9 275.3 315.1 277.8 315.1 392.4 324.1 392.4 328.2 384.6 337.2 372.4 351.1 357.9 362.6 347.8 386.8 328.8 443.9 287.3 462.6 272.6 478.2 258.6 479.8 254.4 480.2 249.9 479.8 248.4Z" fill="#5788d6" fill-rule="evenodd"/><path d="M478.2 246.4 474.9 243.3 470.8 241.1 464.9 240.1 453.8 241.8 432.6 246.6 409.2 253.4 400.9 257.9 390.4 261.8 370.2 267.4 362.9 270.8 354.9 275.3 315.1 277.8 315.1 392.4 324.1 392.4 328.2 384.6 337.2 372.4 351.1 357.9 362.6 347.8 386.8 328.8 443.9 287.3 462.6 272.6 478.2 258.6 479.8 254.4 480.2 249.9 479.8 248.4Z" fill="#5a8ed9" fill-rule="evenodd"/><path d="M478.2 246.4 474.9 243.3 470.8 241.1 464.9 240.1 453.8 241.8 432.6 246.6 410.8 252.9 398.9 258.9 383.9 264.1 375.1 266.1 369.1 268.1 362.9 270.9 355.8 275.1 315.1 277.8 315.1 392.4 324.1 392.4 328.2 384.6 337.2 372.4 351.1 357.9 362.6 347.8 386.8 328.8 443.9 287.3 462.6 272.6 478.2 258.6 479.8 254.4 480.2 249.9 479.8 248.4Z" fill="#5e94db" fill-rule="evenodd"/><path d="M478.2 246.4 474.9 243.3 470.8 241.1 464.9 240.1 453.8 241.8 432.6 246.6 412.2 252.4 399.6 258.9 384.1 264.3 377.1 265.8 368.8 268.4 355.9 275.1 315.1 277.8 315.1 392.4 324.1 392.4 328.2 384.6 337.2 372.4 351.1 357.9 362.6 347.8 386.8 328.8 443.9 287.3 462.6 272.6 478.2 258.6 479.8 254.4 480.2 249.9 479.8 248.4Z" fill="#6098dd" fill-rule="evenodd"/><path d="M478.2 246.4 474.9 243.3 470.8 241.1 464.9 240.1 453.8 241.8 432.6 246.6 414.2 251.8 401.1 258.6 384.2 264.4 377.9 265.8 369.2 268.4 362.1 271.8 356.2 275.1 315.1 277.8 315.1 392.4 324.1 392.4 328.2 384.6 337.2 372.4 351.1 357.9 362.6 347.8 386.8 328.8 443.9 287.3 462.6 272.6 478.2 258.6 479.8 254.4 480.2 249.9 479.8 248.4Z" fill="#629cdd" fill-rule="evenodd"/><path d="M478.2 246.4 474.9 243.3 470.8 241.1 464.9 240.1 453.8 241.8 432.6 246.6 416.2 251.3 406.6 255.6 400.4 259.1 383.9 264.8 375.6 266.6 368.9 268.8 356.4 275.1 315.1 277.8 315.1 392.4 324.1 392.4 328.2 384.6 337.2 372.4 351.1 357.9 362.6 347.8 386.8 328.8 443.9 287.3 462.6 272.6 478.2 258.6 479.8 254.4 480.2 249.9 479.8 248.4Z" fill="#649fde" fill-rule="evenodd"/><path d="M478.2 246.4 474.9 243.3 470.8 241.1 464.9 240.1 453.8 241.8 436.6 245.6 418.9 250.4 407.8 255.3 401.1 259.1 384.1 264.9 374.4 267.1 369.4 268.8 362.4 271.9 357.2 274.9 315.1 277.8 315.1 392.4 324.1 392.4 328.2 384.6 337.2 372.4 351.1 357.9 362.6 347.8 386.8 328.8 443.9 287.3 462.6 272.6 478.2 258.6 479.8 254.4 480.2 249.9 479.8 248.4Z" fill="#66a3df" fill-rule="evenodd"/><path d="M478.1 246.6 474.8 243.4 470.6 241.3 465.1 240.3 453.9 241.9 436.8 245.8 419.1 250.6 405.8 256.4 401.9 258.8 401.8 260.1 401.1 260.6 384.8 266.4 378.9 267.6 371.6 269.8 360.4 274.6 351.1 275.6 315.1 277.8 315.1 392.4 324.1 392.4 328.2 384.6 337.2 372.4 351.1 357.9 362.6 347.8 386.8 328.8 443.9 287.3 462.6 272.6 478.2 258.6 479.8 254.4 480.1 250.1 479.6 248.6Z" fill="#67a7e0" fill-rule="evenodd"/><path d="M477.9 246.6 474.8 243.6 470.6 241.4 465.1 240.4 453.9 242.1 436.8 245.9 419.6 250.6 406.8 256.1 402.8 258.4 402.4 259.9 384.8 266.4 378.9 267.6 371.6 269.8 360.4 274.6 351.1 275.6 315.1 277.8 315.1 392.4 324.1 392.4 328.2 384.6 337.2 372.4 351.1 357.9 362.6 347.8 386.8 328.8 443.9 287.3 462.6 272.6 478.2 258.6 479.8 254.4 479.9 250.1 479.4 248.6Z" fill="#69aae1" fill-rule="evenodd"/><path d="M477.8 246.6 474.8 243.8 470.1 241.4 465.8 240.6 453.9 242.3 436.8 246.1 420.1 250.6 405.9 256.8 403.9 257.9 402.9 259.8 384.8 266.4 378.9 267.6 371.6 269.8 360.4 274.6 351.1 275.6 315.1 277.8 315.1 392.4 324.1 392.4 328.2 384.6 337.2 372.4 351.1 357.9 362.6 347.8 386.8 328.8 443.9 287.3 462.6 272.6 478.2 258.6 479.8 254.4 480.1 252.1 479.2 248.6Z" fill="#6aacdd" fill-rule="evenodd"/><path d="M477.8 246.9 474.4 243.8 470.6 241.8 465.1 240.8 453.9 242.4 436.8 246.3 420.6 250.6 413.2 253.4 404.4 257.9 403.4 259.6 384.8 266.4 378.9 267.6 371.6 269.8 360.4 274.6 351.1 275.6 315.1 277.8 315.1 392.4 321.2 392.4 324.4 391.8 328.2 384.6 337.2 372.4 351.1 357.9 362.6 347.8 386.8 328.8 443.9 287.3 462.6 272.6 478.2 258.6 479.8 254.4 479.6 250.1Z" fill="#6aaeda" fill-rule="evenodd"/><path d="M477.6 246.9 474.4 243.9 470.1 241.8 465.8 240.9 453.9 242.6 436.8 246.4 420.6 250.8 409.9 255.1 405.8 257.3 404.1 259.3 400.2 260.9 384.8 266.4 378.9 267.6 371.6 269.8 360.4 274.6 351.1 275.6 315.1 277.8 315.1 392.4 324.4 390.8 329.2 382.3 336.9 372.1 350.8 357.6 363.4 346.4 386.4 328.4 443.6 286.9 462.2 272.3 477.9 258.3 479.2 254.4 479.4 250.1Z" fill="#6bafd6" fill-rule="evenodd"/><path d="M477.4 246.9 474.4 244.1 470.1 241.9 465.8 241.1 453.9 242.8 436.8 246.6 420.6 250.9 409.9 255.3 406.8 256.9 404.9 258.9 400.2 260.9 384.8 266.4 378.9 267.6 371.6 269.8 360.4 274.6 351.1 275.6 315.1 277.8 315.1 391.6 324.6 389.6 326.6 385.4 329.9 380.4 340.2 367.6 350.6 357.1 363.2 345.9 386.2 327.9 443.4 286.4 462.1 271.8 477.4 258.1 478.8 254.4 479.2 250.1Z" fill="#6bb1d3" fill-rule="evenodd"/><path d="M477.4 247.3 474.1 244.1 470.1 242.1 465.8 241.3 453.9 242.9 436.8 246.8 420.6 251.1 409.9 255.4 407.2 256.9 405.6 258.6 400.2 260.9 384.8 266.4 378.9 267.6 371.6 269.8 360.4 274.6 351.1 275.6 315.1 277.8 315.1 390.4 324.4 388.6 326.9 383.9 331.9 376.8 339.8 367.4 350.4 356.6 363.1 345.4 386.1 327.4 443.2 285.9 461.9 271.3 472.1 262.4 477.1 257.6 477.9 255.3 478.8 249.1Z" fill="#6cb3cf" fill-rule="evenodd"/><path d="M477.2 247.3 474.1 244.3 470.2 242.3 465.4 241.3 454.2 242.9 437.1 246.8 420.4 251.3 410.9 255.1 407.8 256.9 406.4 258.3 400.2 260.9 384.8 266.4 378.9 267.6 371.6 269.8 360.4 274.6 351.1 275.6 315.1 277.8 315.1 389.4 325.1 387.4 327.1 383.6 332.1 376.4 341.4 365.4 350.1 356.8 362.8 345.6 385.8 327.6 442.9 286.1 461.6 271.4 476.9 257.8 477.8 255.6 478.8 249.3Z" fill="#6cb4c9" fill-rule="evenodd"/><path d="M477.2 247.4 473.9 244.3 469.9 242.3 465.6 241.4 459.4 242.1 441.1 245.9 420.8 251.3 413.4 254.1 409.2 256.3 407.1 257.9 400.2 260.9 384.8 266.4 378.9 267.6 371.6 269.8 360.4 274.6 351.1 275.6 315.1 277.8 315.1 388.3 325.4 386.3 332.2 376.1 341.1 365.8 350.4 356.4 363.1 345.3 378.8 332.8 432.8 293.6 462.9 270.3 476.9 257.6 478.2 253.8 478.8 250.1Z" fill="#6db5bd" fill-rule="evenodd"/><path d="M476.9 247.1 474.2 244.6 470.1 242.4 465.8 241.6 453.9 243.3 436.8 247.1 420.6 251.4 414.4 253.8 407.9 257.6 400.2 260.9 384.8 266.4 378.9 267.6 371.6 269.8 360.4 274.6 351.1 275.6 315.1 277.8 315.1 387.1 326.1 384.9 332.4 375.8 341.2 365.4 350.1 356.6 362.8 345.4 378.4 332.9 432.4 293.8 462.6 270.4 476.8 257.8 478.1 254.1 478.6 250.4 478.4 249.1Z" fill="#6eb6b0" fill-rule="evenodd"/><path d="M476.9 247.3 474.1 244.6 470.2 242.6 465.4 241.6 454.2 243.3 437.1 247.1 420.9 251.4 414.1 254.1 408.4 257.4 400.2 260.9 384.8 266.4 378.9 267.6 371.6 269.8 360.4 274.6 351.1 275.6 315.1 277.8 315.1 385.9 326.9 383.6 332.4 375.6 341.2 365.3 349.9 356.6 362.6 345.4 378.2 332.9 432.2 293.8 462.4 270.4 476.8 257.6 478.1 253.9 478.6 250.3 478.4 249.3Z" fill="#6fb7a2" fill-rule="evenodd"/><path d="M476.8 247.3 474.1 244.8 470.2 242.8 465.4 241.8 454.2 243.4 437.1 247.3 420.9 251.6 414.1 254.3 409.2 257.1 400.2 260.9 384.8 266.4 378.9 267.6 371.6 269.8 360.4 274.6 351.1 275.6 315.1 277.8 315.1 384.8 327.8 382.3 332.2 375.8 341.1 365.4 350.1 356.4 362.8 345.3 378.4 332.8 432.4 293.6 462.6 270.3 476.8 257.6 477.9 254.3 478.4 250.6 478.2 249.3Z" fill="#71b891" fill-rule="evenodd"/><path d="M476.8 247.4 473.9 244.8 470.1 242.8 465.8 241.9 453.9 243.6 436.8 247.4 420.6 251.8 400.2 260.9 384.8 266.4 371.8 269.8 360.4 274.6 351.1 275.6 315.1 277.8 315.1 383.6 328.6 380.9 332.2 375.6 341.1 365.3 349.9 356.4 362.6 345.3 378.2 332.8 432.2 293.6 462.4 270.3 476.6 257.6 477.9 253.9 478.4 250.3Z" fill="#72b980" fill-rule="evenodd"/><path d="M476.6 247.4 473.9 244.9 469.6 242.8 466.1 242.1 460.8 242.4 437.2 247.4 421.1 251.8 399.9 261.1 384.6 266.6 380.8 267.3 371.1 270.1 365.4 272.3 361.2 274.4 351.1 275.6 315.1 277.8 315.1 382.3 329.6 379.4 332.8 374.9 340.9 365.4 350.1 356.3 362.8 345.1 378.4 332.6 432.4 293.4 462.6 270.1 476.6 257.4 477.9 253.8 478.2 251.4 478.1 249.4Z" fill="#75ba71" fill-rule="evenodd"/><path d="M476.6 247.6 473.8 244.9 469.8 242.9 465.4 242.1 459.6 242.8 441.2 246.6 420.9 251.9 399.4 261.4 384.9 266.6 371.2 270.1 361.2 274.4 351.1 275.6 315.1 277.8 315.1 381.1 330.2 378.1 340.9 365.3 349.9 356.3 362.6 345.1 378.2 332.6 432.2 293.4 461.4 270.9 476.6 257.3 478.1 251.6 477.9 249.4Z" fill="#7abd63" fill-rule="evenodd"/><path d="M476.4 247.6 473.8 245.1 469.9 243.1 465.8 242.3 459.2 242.9 440.9 246.8 421.2 251.9 404.6 258.9 399.8 261.4 384.8 266.8 371.4 270.1 361.4 274.4 351.1 275.6 315.1 277.8 315.1 379.8 331.4 376.4 340.9 365.1 349.8 356.3 362.4 345.1 378.1 332.6 432.1 293.4 461.2 270.9 476.4 257.4 477.8 253.8 478.1 251.4 477.9 249.6Z" fill="#7ebf56" fill-rule="evenodd"/><path d="M476.4 247.8 473.6 245.1 469.6 243.1 466.1 242.4 459.8 242.9 441.4 246.8 421.1 252.1 407.2 257.8 399.2 261.8 385.2 266.8 380.6 267.6 371.2 270.3 361.6 274.4 351.1 275.6 315.1 277.8 315.1 378.3 332.6 374.8 340.8 365.3 349.9 356.1 362.6 344.9 378.2 332.4 432.2 293.3 461.4 270.8 476.4 257.3 477.9 251.8 477.8 249.6Z" fill="#81c04e" fill-rule="evenodd"/><path d="M476.4 247.9 473.6 245.3 469.8 243.3 465.4 242.4 459.6 243.1 441.2 246.9 420.9 252.3 407.2 257.8 399.6 261.8 385.6 266.8 371.9 270.1 361.6 274.4 351.1 275.6 315.1 277.8 315.1 376.8 333.9 373.1 340.8 365.1 349.8 356.1 362.4 344.9 385.4 326.9 442.6 285.4 461.2 270.8 471.4 261.9 476.4 257.1 477.1 255.3 477.9 250.4Z" fill="#83c04a" fill-rule="evenodd"/><path d="M473.4 245.3 469.4 243.3 465.9 242.6 459.9 243.1 441.6 246.9 421.2 252.3 408.1 257.4 399.1 262.1 385.4 266.9 379.2 268.1 371.6 270.3 361.6 274.4 351.1 275.6 315.1 277.8 315.1 375.1 335.2 371.1 349.8 355.9 362.4 344.8 370.9 337.9 394.2 320.3 438.6 288.3 462.2 269.8 476.2 257.1 477.8 251.4 477.6 249.6Z" fill="#84c046" fill-rule="evenodd"/><path d="M477.4 249.6 473.2 245.3 470.1 243.6 466.1 242.8 459.8 243.3 441.4 247.1 421.1 252.4 411.6 255.9 399.9 261.9 385.2 267.1 371.8 270.3 362.4 274.3 351.1 275.6 315.1 277.8 315.1 373.3 336.9 368.9 349.6 355.8 362.2 344.6 376.4 333.3 403.4 313.3 431.9 292.9 462.1 269.6 476.1 256.9 477.2 253.6Z" fill="#86c042" fill-rule="evenodd"/><path d="M476.2 248.3 473.2 245.4 469.8 243.6 465.4 242.8 459.6 243.4 441.2 247.3 420.9 252.6 412.2 255.8 398.9 262.4 385.1 267.3 380.8 267.9 372.1 270.3 362.4 274.3 351.1 275.6 315.1 277.8 315.1 370.8 339.2 365.9 354.1 351.4 376.1 333.3 403.1 313.3 431.6 292.9 461.8 269.6 475.9 256.8 477.1 253.3 477.4 250.6Z" fill="#87c03e" fill-rule="evenodd"/><path d="M477.1 249.4 473.4 245.6 469.9 243.8 465.9 242.9 459.9 243.4 441.6 247.3 421.2 252.6 411.4 256.3 399.8 262.3 385.4 267.3 380.4 268.1 371.8 270.4 362.6 274.3 351.1 275.6 315.1 277.8 315.1 368.3 341.9 362.9 349.4 355.4 360.9 345.3 376.2 332.9 403.2 312.9 431.8 292.6 461.9 269.3 475.8 256.8 476.8 253.9Z" fill="#89c13c" fill-rule="evenodd"/><path d="M476.9 249.4 473.4 245.8 469.6 243.8 466.1 243.1 459.8 243.6 441.4 247.4 421.1 252.8 413.2 255.6 399.2 262.6 385.2 267.4 380.1 268.3 371.9 270.4 362.8 274.3 351.1 275.6 315.1 277.8 315.1 365.8 344.6 359.9 360.8 345.1 377.6 331.6 431.6 292.4 461.8 269.1 475.6 256.6 476.6 253.8Z" fill="#8bc23c" fill-rule="evenodd"/><path d="M476.2 248.8 473.2 245.8 469.8 243.9 465.6 243.1 459.4 243.8 441.1 247.6 421.4 252.8 413.9 255.4 399.6 262.6 386.2 267.3 372.2 270.4 362.8 274.3 351.1 275.6 315.1 277.8 315.1 363.4 346.6 357.1 361.6 343.6 377.2 331.1 431.2 291.9 461.4 268.6 475.1 256.3 476.1 253.3Z" fill="#8ec33c" fill-rule="evenodd"/><path d="M475.6 248.1 473.2 245.9 469.4 243.9 465.9 243.3 459.9 243.8 441.6 247.6 421.2 252.9 415.1 255.1 405.6 260.1 399.1 262.9 386.1 267.4 379.4 268.6 371.9 270.6 362.8 274.3 351.1 275.6 315.1 277.8 315.1 360.9 348.6 354.3 361.1 343.1 376.8 330.6 430.8 291.4 460.9 268.1 474.4 255.9 475.4 252.8Z" fill="#90c43c" fill-rule="evenodd"/><path d="M475.1 247.8 473.1 245.9 469.6 244.1 466.1 243.4 459.8 243.9 441.4 247.8 421.1 253.1 415.2 255.3 399.9 262.8 385.9 267.6 380.6 268.4 371.6 270.8 362.8 274.3 351.1 275.6 315.1 277.8 315.1 358.4 350.8 351.3 360.8 342.4 376.4 329.9 430.4 290.8 459.6 268.3 473.8 255.6 474.8 252.4Z" fill="#97c63d" fill-rule="evenodd"/><path d="M474.2 247.3 473.1 246.1 469.6 244.3 465.6 243.4 454.1 245.1 436.9 248.9 421.4 253.1 400.8 262.6 385.8 267.8 375.1 269.8 363.6 274.1 351.1 275.6 315.1 277.8 315.1 355.9 353.4 348.1 360.2 341.9 375.9 329.4 429.9 290.3 460.1 266.9 473.1 255.3 474.1 252.1Z" fill="#a0c93f" fill-rule="evenodd"/><path d="M473.8 246.9 469.4 244.3 464.1 243.6 454.6 245.1 437.4 248.9 420.8 253.4 401.9 262.3 385.6 267.9 374.9 269.9 363.8 274.1 351.1 275.6 315.1 277.8 315.1 353.4 355.6 345.3 375.2 329.1 429.2 289.9 458.4 267.4 472.6 254.8 473.4 252.1Z" fill="#a8cc40" fill-rule="evenodd"/><path d="M473.1 246.8 469.6 244.8 465.2 243.9 454.1 245.6 437.8 249.3 420.6 253.9 402.2 262.3 385.4 268.1 375.1 269.9 363.8 274.1 351.1 275.6 315.1 277.8 315.1 350.9 357.9 342.3 375.1 328.4 429.1 289.3 458.2 266.8 472.1 254.3 472.8 252.3Z" fill="#b3d040" fill-rule="evenodd"/><path d="M472.4 246.8 469.2 245.1 464.2 244.4 453.9 246.1 433.6 250.8 420.9 254.3 401.4 262.8 385.1 268.3 375.4 269.9 363.8 274.1 351.1 275.6 315.1 277.8 315.1 348.6 353.6 340.9 361.1 338.9 374.2 328.3 428.9 288.6 457.4 266.6 471.4 254.1 472.1 252.3Z" fill="#bed440" fill-rule="evenodd"/><path d="M471.8 247.1 469.1 245.6 464.2 244.9 454.8 246.4 437.6 250.3 420.9 254.8 400.9 263.1 385.6 268.3 375.1 270.1 363.8 274.1 351.1 275.6 315.1 277.8 315.1 346.1 352.9 338.6 364.2 335.6 382.1 321.6 435.2 283.1 457.2 265.9 470.9 253.6 471.4 252.4Z" fill="#c9d840" fill-rule="evenodd"/><path d="M471.1 247.3 469.1 246.1 465.9 245.4 460.9 245.8 434.1 251.6 420.9 255.3 401.2 263.1 385.4 268.4 375.4 270.1 364.8 273.9 351.1 275.6 315.1 277.8 315.1 343.6 353.1 336.1 362.8 333.4 366.4 332.9 390.1 314.9 434.4 282.9 457.2 265.1 470.4 253.3 471.1 250.1Z" fill="#d1db40" fill-rule="evenodd"/><path d="M470.4 247.4 468.8 246.4 466.1 245.9 460.8 246.3 434.1 252.1 420.9 255.8 391.2 266.8 385.9 268.4 375.1 270.3 364.8 273.9 351.1 275.6 315.1 277.8 315.1 341.1 353.2 333.6 362.9 330.9 369.1 330.1 389.4 314.6 433.8 282.6 456.4 264.9 469.9 252.8Z" fill="#dade40" fill-rule="evenodd"/><path d="M469.9 247.6 468.8 246.9 465.4 246.3 460.4 246.8 434.6 252.4 422.4 255.8 385.8 268.6 374.8 270.4 364.8 273.9 351.1 275.6 315.1 277.8 315.1 338.6 353.4 331.1 363.1 328.4 371.8 327.1 398.6 307.1 427.1 286.8 456.2 264.3 469.2 252.6Z" fill="#e1e040" fill-rule="evenodd"/><path d="M469.2 247.8 465.4 246.8 461.4 247.1 434.6 252.9 416.8 258.1 385.4 268.8 375.1 270.4 364.8 273.9 351.1 275.6 315.1 277.8 315.1 336.3 353.4 328.6 363.1 325.9 374.4 324.3 398.4 306.4 426.9 286.1 455.4 264.1 468.8 252.1Z" fill="#e6de40" fill-rule="evenodd"/><path d="M468.6 248.1 465.2 247.3 461.6 247.6 438.1 252.6 408.2 261.1 386.1 268.8 376.1 270.3 365.8 273.8 351.1 275.6 315.1 277.8 315.1 333.8 353.6 326.1 363.2 323.4 377.4 321.3 426.8 285.4 455.2 263.4 468.2 251.8Z" fill="#ebdd40" fill-rule="evenodd"/><path d="M467.9 248.4 465.4 247.9 461.4 248.3 437.9 253.3 407.9 261.4 386.4 268.8 375.8 270.4 365.8 273.8 351.1 275.6 315.1 277.8 315.1 331.3 353.8 323.6 363.4 320.9 380.1 318.4 426.6 284.8 455.2 262.6 467.6 251.4Z" fill="#eeda3f" fill-rule="evenodd"/><path d="M467.2 248.9 464.6 248.6 460.4 249.1 437.9 253.9 420.9 258.8 407.6 261.8 386.2 268.9 375.2 270.6 365.8 273.8 351.1 275.6 315.1 277.8 315.1 328.8 353.1 321.3 362.8 318.6 382.9 315.6 425.9 284.4 443.8 270.9 464.4 253.8 467.1 251.1Z" fill="#efd43e" fill-rule="evenodd"/><path d="M466.6 249.6 465.6 249.3 461.2 249.6 438.6 254.4 420.2 259.6 408.4 261.8 386.1 269.1 375.6 270.6 366.8 273.6 351.1 275.6 315.1 277.8 315.1 326.3 353.2 318.8 362.9 316.1 386.1 312.4 425.1 284.3 454.2 261.8 463.4 253.8 466.4 250.8Z" fill="#f0cf3d" fill-rule="evenodd"/><path d="M465.4 250.8 462.8 250.1 455.8 251.3 435.2 255.9 420.2 260.3 415.8 260.6 408.8 261.9 385.9 269.3 375.2 270.8 366.8 273.6 351.1 275.6 315.1 277.8 315.1 323.8 353.4 316.3 363.1 313.6 388.4 309.8 435.1 275.9 453.9 261.1Z" fill="#f0c93c" fill-rule="evenodd"/><path d="M462.8 252.3 460.2 251.3 455.6 251.9 435.2 256.6 420.9 260.8 415.2 261.1 408.2 262.3 385.8 269.4 375.6 270.8 366.8 273.6 351.1 275.6 315.1 277.8 315.1 321.4 353.6 313.8 363.2 311.1 390.9 306.9 434.4 275.4 453.1 260.8Z" fill="#f0c23b" fill-rule="evenodd"/><path d="M459.8 253.6 454.9 252.8 435.2 257.3 420.9 261.4 414.4 261.6 407.1 262.8 386.2 269.4 375.2 270.9 368.2 273.3 362.8 274.3 351.1 275.6 315.1 277.8 315.1 318.9 352.9 311.4 363.4 308.6 393.8 303.9 433.8 274.9 452.4 260.3Z" fill="#f0bb3a" fill-rule="evenodd"/><path d="M456.4 255.6 449.6 254.6 435.9 257.8 421.1 262.1 415.8 261.9 409.1 262.6 402.1 264.3 386.1 269.6 376.4 270.8 368.4 273.3 362.8 274.3 351.1 275.6 315.1 277.8 315.1 316.4 353.1 308.9 363.6 306.1 396.2 301.1 433.1 274.4 451.8 259.8Z" fill="#efb339" fill-rule="evenodd"/><path d="M452.9 257.6 444.6 256.4 427.9 260.6 421.1 262.8 413.4 262.4 407.6 263.1 401.4 264.6 385.8 269.8 375.9 270.9 369.1 273.1 362.8 274.3 351.1 275.6 315.1 277.8 315.1 313.9 353.2 306.4 363.8 303.6 399.2 298.1 433.1 273.4Z" fill="#eeab37" fill-rule="evenodd"/><path d="M449.2 259.6 439.4 258.3 421.2 263.4 417.1 262.9 406.9 263.4 401.9 264.6 386.2 269.8 376.4 270.9 368.9 273.3 360.4 274.6 351.1 275.6 315.1 277.8 315.1 311.4 353.2 303.9 362.9 301.3 401.8 295.3 432.4 272.9Z" fill="#eca236" fill-rule="evenodd"/><path d="M445.6 261.6 435.2 260.1 420.8 264.3 415.4 263.3 406.2 263.8 401.9 264.8 386.1 269.9 375.9 271.1 368.6 273.4 351.1 275.6 315.1 277.8 315.1 308.9 353.4 301.4 363.1 298.8 404.2 292.4 429.1 274.4Z" fill="#eb9a34" fill-rule="evenodd"/><path d="M441.6 263.6 435.1 262.8 431.9 261.8 420.8 264.9 415.9 263.8 409.1 263.6 401.8 264.9 385.9 270.1 376.4 271.1 368.2 273.6 367.8 273.3 360.4 274.6 351.1 275.6 315.1 277.8 315.1 306.6 353.6 298.9 363.2 296.3 407.1 289.4 427.9 274.3Z" fill="#ea9232" fill-rule="evenodd"/><path d="M437.2 265.6 428.6 263.4 420.9 265.6 413.9 263.9 408.1 263.9 401.8 265.1 386.4 270.1 375.9 271.3 368.1 273.8 367.8 273.3 360.4 274.6 351.1 275.6 315.1 277.8 315.1 304.1 353.8 296.4 363.4 293.8 408.8 286.8Z" fill="#e88a30" fill-rule="evenodd"/><path d="M433.2 267.3 425.2 265.1 420.4 266.3 414.6 264.4 408.9 264.1 401.6 265.3 386.2 270.3 376.4 271.3 367.8 273.9 366.9 273.4 351.1 275.6 315.1 277.8 315.1 301.6 353.1 294.1 363.6 291.3 410.8 283.9Z" fill="#e7812e" fill-rule="evenodd"/><path d="M429.4 268.8 421.9 266.8 420.6 267.1 414.2 264.8 407.6 264.4 401.6 265.4 386.1 270.4 381.2 270.6 375.9 271.4 367.4 274.1 366.9 273.4 351.1 275.6 315.1 277.8 315.1 299.1 353.2 291.6 362.9 288.9 411.1 281.4 418.1 277.3Z" fill="#e6792b" fill-rule="evenodd"/><path d="M425.4 270.3 411.8 266.8 408.1 264.8 406.2 264.8 401.4 265.6 386.4 270.4 376.2 271.4 367.1 274.3 366.9 273.4 351.1 275.6 315.1 277.8 315.1 296.6 353.4 289.1 363.1 286.4 410.4 279.1 421.8 272.9Z" fill="#e47128" fill-rule="evenodd"/><path d="M419.9 271.4 411.1 269.1 403.9 265.3 386.2 270.6 375.8 271.6 366.9 274.4 366.4 274.3 366.6 273.6 351.1 275.6 315.1 277.8 315.1 294.3 352.8 286.8 363.1 283.9 410.6 276.6Z" fill="#e26928" fill-rule="evenodd"/><path d="M413.9 272.4 410.9 271.6 401.2 265.9 386.1 270.8 380.9 270.9 375.4 271.8 366.2 274.8 366.2 273.6 351.1 275.6 315.1 277.8 315.1 291.8 352.9 284.3 363.4 281.4 410.8 274.1Z" fill="#df6228" fill-rule="evenodd"/><path d="M407.6 272.1 398.4 266.9 385.9 270.9 375.8 271.8 366.4 274.8 365.9 274.6 365.9 273.6 351.1 275.6 315.1 277.8 315.1 289.3 353.8 281.6 363.6 278.9Z" fill="#dc5a28" fill-rule="evenodd"/><path d="M400.8 270.8 396.4 267.9 386.4 270.9 381.1 271.1 372.6 272.6 365.8 275.1 365.8 273.8 351.1 275.6 315.1 277.8 315.1 286.8 353.1 279.3 363.8 276.4Z" fill="#d85327" fill-rule="evenodd"/><path d="M365.4 273.8 351.1 275.6 315.1 277.8 315.1 284.3 353.2 276.8ZM373.1 272.6 373.4 272.6ZM382.1 271.3 373.8 272.4ZM393.8 269.4 393.1 268.9 389.1 270.1Z" fill="#d44c26" fill-rule="evenodd"/><path d="M345.1 275.9 315.1 277.8 315.1 281.8Z" fill="#cf4525" fill-rule="evenodd"/><path d="M327.6 276.9 315.4 277.6 315.1 279.4Z" fill="#ca4125" fill-rule="evenodd"/></g></g><rect x="41.5" y="218.5" width="174.0" height="173.5" fill="none" stroke="#161b30" stroke-width="1"/><rect x="315.5" y="220.7" width="172.0" height="171.3" fill="none" stroke="#161b30" stroke-width="1"/><rect x="219.0" y="218.0" width="8.0" height="174.5" fill="url(#cm)"/><rect x="219.5" y="218.5" width="7.0" height="173.5" fill="none" stroke="#333" stroke-width="0.9"/><path d="M226.00 392.50h3.2M225.50 379.37h1.6M225.50 371.69h1.6M225.50 366.24h1.6M225.50 362.01h1.6M225.50 358.55h1.6M225.50 355.63h1.6M225.50 353.10h1.6M225.50 350.87h1.6M226.00 348.88h3.2M225.50 335.74h1.6M225.50 328.06h1.6M225.50 322.61h1.6M225.50 318.38h1.6M225.50 314.93h1.6M225.50 312.01h1.6M225.50 309.48h1.6M225.50 307.25h1.6M226.00 305.25h3.2M225.50 292.12h1.6M225.50 284.44h1.6M225.50 278.99h1.6M225.50 274.76h1.6M225.50 271.30h1.6M225.50 268.38h1.6M225.50 265.85h1.6M225.50 263.62h1.6M226.00 261.62h3.2M225.50 248.49h1.6M225.50 240.81h1.6M225.50 235.36h1.6M225.50 231.13h1.6M225.50 227.68h1.6M225.50 224.76h1.6M225.50 222.23h1.6M225.50 220.00h1.6M226.00 218.30h3.2" stroke="#333" stroke-width="0.7"/><g style="font-family:'Liberation Sans',Arial,sans-serif;font-size:9.2px" fill="#1a1a1a" stroke="#1a1a1a" stroke-width="0.28"><text x="232.40" y="394.50">10<tspan dy="-4.0" style="font-size:6.0px"><tspan style="font-size:5.1px">&#8211;</tspan>5</tspan></text><text x="232.40" y="350.88">10<tspan dy="-4.0" style="font-size:6.0px"><tspan style="font-size:5.1px">&#8211;</tspan>4</tspan></text><text x="232.40" y="307.25">10<tspan dy="-4.0" style="font-size:6.0px"><tspan style="font-size:5.1px">&#8211;</tspan>3</tspan></text><text x="232.40" y="263.62">10<tspan dy="-4.0" style="font-size:6.0px"><tspan style="font-size:5.1px">&#8211;</tspan>2</tspan></text><text x="232.40" y="220.00">10<tspan dy="-4.0" style="font-size:6.0px"><tspan style="font-size:5.1px">&#8211;</tspan>1</tspan></text></g><rect x="491.0" y="220.2" width="7.399999999999977" height="172.3" fill="url(#cm)"/><rect x="491.5" y="220.7" width="6.399999999999977" height="171.3" fill="none" stroke="#333" stroke-width="0.9"/><path d="M497.40 392.50h3.2M496.90 379.53h1.6M496.90 371.95h1.6M496.90 366.57h1.6M496.90 362.39h1.6M496.90 358.98h1.6M496.90 356.10h1.6M496.90 353.60h1.6M496.90 351.40h1.6M497.40 349.43h3.2M496.90 336.46h1.6M496.90 328.87h1.6M496.90 323.49h1.6M496.90 319.32h1.6M496.90 315.91h1.6M496.90 313.02h1.6M496.90 310.52h1.6M496.90 308.32h1.6M497.40 306.35h3.2M496.90 293.38h1.6M496.90 285.80h1.6M496.90 280.42h1.6M496.90 276.24h1.6M496.90 272.83h1.6M496.90 269.95h1.6M496.90 267.45h1.6M496.90 265.25h1.6M497.40 263.27h3.2M496.90 250.31h1.6M496.90 242.72h1.6M496.90 237.34h1.6M496.90 233.17h1.6M496.90 229.76h1.6M496.90 226.87h1.6M496.90 224.37h1.6M496.90 222.17h1.6M497.40 220.50h3.2" stroke="#333" stroke-width="0.7"/><g style="font-family:'Liberation Sans',Arial,sans-serif;font-size:9.2px" fill="#1a1a1a" stroke="#1a1a1a" stroke-width="0.28"><text x="503.60" y="394.50">10<tspan dy="-4.0" style="font-size:6.0px"><tspan style="font-size:5.1px">&#8211;</tspan>5</tspan></text><text x="503.60" y="351.43">10<tspan dy="-4.0" style="font-size:6.0px"><tspan style="font-size:5.1px">&#8211;</tspan>4</tspan></text><text x="503.60" y="308.35">10<tspan dy="-4.0" style="font-size:6.0px"><tspan style="font-size:5.1px">&#8211;</tspan>3</tspan></text><text x="503.60" y="265.27">10<tspan dy="-4.0" style="font-size:6.0px"><tspan style="font-size:5.1px">&#8211;</tspan>2</tspan></text><text x="503.60" y="222.20">10<tspan dy="-4.0" style="font-size:6.0px"><tspan style="font-size:5.1px">&#8211;</tspan>1</tspan></text></g><path d="M216.00 392.00h1.6M216.00 387.66h1.6M216.00 383.31h1.6M216.00 378.96h1.6M216.00 374.62h1.6M216.00 370.27h1.6M216.00 365.93h1.6M216.00 361.59h1.6M216.00 357.24h1.6M216.00 352.89h1.6M216.00 348.55h1.6M216.00 344.21h1.6M216.00 339.86h1.6M216.00 335.51h1.6M216.00 331.17h1.6M216.00 326.82h1.6M216.00 322.48h1.6M216.00 318.13h1.6M216.00 313.79h1.6M216.00 309.44h1.6M216.00 305.10h1.6M216.00 300.75h1.6M216.00 296.41h1.6M216.00 292.06h1.6M216.00 287.72h1.6M216.00 283.38h1.6M216.00 279.03h1.6M216.00 274.69h1.6M216.00 270.34h1.6M216.00 266.00h1.6M216.00 261.65h1.6M216.00 257.31h1.6M216.00 252.96h1.6M216.00 248.61h1.6M216.00 244.27h1.6M216.00 239.92h1.6M216.00 235.58h1.6M216.00 231.24h1.6M216.00 226.89h1.6M216.00 222.54h1.6M216.00 218.20h1.6M488.00 392.00h1.6M488.00 387.21h1.6M488.00 382.42h1.6M488.00 377.63h1.6M488.00 372.84h1.6M488.00 368.05h1.6M488.00 363.26h1.6M488.00 358.47h1.6M488.00 353.68h1.6M488.00 348.89h1.6M488.00 344.10h1.6M488.00 339.31h1.6M488.00 334.52h1.6M488.00 329.73h1.6M488.00 324.94h1.6M488.00 320.15h1.6M488.00 315.36h1.6M488.00 310.57h1.6M488.00 305.78h1.6M488.00 300.99h1.6M488.00 296.20h1.6M488.00 291.41h1.6M488.00 286.62h1.6M488.00 281.83h1.6M488.00 277.04h1.6M488.00 272.25h1.6M488.00 267.46h1.6M488.00 262.67h1.6M488.00 257.88h1.6M488.00 253.09h1.6M488.00 248.30h1.6M488.00 243.51h1.6M488.00 238.72h1.6M488.00 233.93h1.6M488.00 229.14h1.6M488.00 224.35h1.6M488.00 219.56h1.6M315.50 220.20v-1.2M320.28 220.20v-1.2M325.06 220.20v-1.2M329.84 220.20v-1.2M334.62 220.20v-1.2M339.40 220.20v-1.2M344.18 220.20v-1.2M348.96 220.20v-1.2M353.74 220.20v-1.2M358.52 220.20v-1.2M363.30 220.20v-1.2M368.08 220.20v-1.2M372.86 220.20v-1.2M377.64 220.20v-1.2M382.42 220.20v-1.2M387.20 220.20v-1.2M391.98 220.20v-1.2M396.76 220.20v-1.2M401.54 220.20v-1.2M406.32 220.20v-1.2M411.10 220.20v-1.2M415.88 220.20v-1.2M420.66 220.20v-1.2M425.44 220.20v-1.2M430.22 220.20v-1.2M435.00 220.20v-1.2M439.78 220.20v-1.2M444.56 220.20v-1.2M449.34 220.20v-1.2M454.12 220.20v-1.2M458.90 220.20v-1.2M463.68 220.20v-1.2M468.46 220.20v-1.2M473.24 220.20v-1.2M478.02 220.20v-1.2M482.80 220.20v-1.2M41.60 218.00v-1.2M51.33 218.00v-1.2M61.06 218.00v-1.2M70.79 218.00v-1.2M80.52 218.00v-1.2M90.25 218.00v-1.2M99.98 218.00v-1.2M109.71 218.00v-1.2M119.44 218.00v-1.2M129.17 218.00v-1.2M138.90 218.00v-1.2M148.63 218.00v-1.2M158.36 218.00v-1.2M168.09 218.00v-1.2M177.82 218.00v-1.2M187.55 218.00v-1.2M197.28 218.00v-1.2M207.01 218.00v-1.2" stroke="#555" stroke-width="0.6"/><path d="M41.60 392.50v3.0M51.33 392.50v1.5M61.06 392.50v1.5M70.79 392.50v1.5M80.52 392.50v1.5M90.25 392.50v3.0M99.98 392.50v1.5M109.71 392.50v1.5M119.44 392.50v1.5M129.17 392.50v1.5M138.90 392.50v3.0M148.63 392.50v1.5M158.36 392.50v1.5M168.09 392.50v1.5M177.82 392.50v1.5M187.55 392.50v3.0M197.28 392.50v1.5M207.01 392.50v1.5M41.00 392.00h-3.0M41.00 387.66h-1.5M41.00 383.31h-1.5M41.00 378.96h-1.5M41.00 374.62h-1.5M41.00 370.27h-1.5M41.00 365.93h-1.5M41.00 361.59h-1.5M41.00 357.24h-1.5M41.00 352.89h-1.5M41.00 348.55h-3.0M41.00 344.21h-1.5M41.00 339.86h-1.5M41.00 335.51h-1.5M41.00 331.17h-1.5M41.00 326.82h-1.5M41.00 322.48h-1.5M41.00 318.13h-1.5M41.00 313.79h-1.5M41.00 309.44h-1.5M41.00 305.10h-3.0M41.00 300.75h-1.5M41.00 296.41h-1.5M41.00 292.06h-1.5M41.00 287.72h-1.5M41.00 283.38h-1.5M41.00 279.03h-1.5M41.00 274.69h-1.5M41.00 270.34h-1.5M41.00 266.00h-1.5M41.00 261.65h-3.0M41.00 257.31h-1.5M41.00 252.96h-1.5M41.00 248.61h-1.5M41.00 244.27h-1.5M41.00 239.92h-1.5M41.00 235.58h-1.5M41.00 231.24h-1.5M41.00 226.89h-1.5M41.00 222.54h-1.5M41.00 218.20h-3.0" stroke="#333" stroke-width="0.7"/><path d="M315.50 392.50v3.0M320.28 392.50v1.5M325.06 392.50v1.5M329.84 392.50v1.5M334.62 392.50v1.5M339.40 392.50v1.5M344.18 392.50v1.5M348.96 392.50v1.5M353.74 392.50v1.5M358.52 392.50v1.5M363.30 392.50v3.0M368.08 392.50v1.5M372.86 392.50v1.5M377.64 392.50v1.5M382.42 392.50v1.5M387.20 392.50v1.5M391.98 392.50v1.5M396.76 392.50v1.5M401.54 392.50v1.5M406.32 392.50v1.5M411.10 392.50v3.0M415.88 392.50v1.5M420.66 392.50v1.5M425.44 392.50v1.5M430.22 392.50v1.5M435.00 392.50v1.5M439.78 392.50v1.5M444.56 392.50v1.5M449.34 392.50v1.5M454.12 392.50v1.5M458.90 392.50v3.0M463.68 392.50v1.5M468.46 392.50v1.5M473.24 392.50v1.5M478.02 392.50v1.5M482.80 392.50v1.5M315.00 392.00h-3.0M315.00 382.42h-1.5M315.00 372.84h-1.5M315.00 363.26h-1.5M315.00 353.68h-1.5M315.00 344.10h-3.0M315.00 334.52h-1.5M315.00 324.94h-1.5M315.00 315.36h-1.5M315.00 305.78h-1.5M315.00 296.20h-3.0M315.00 286.62h-1.5M315.00 277.04h-1.5M315.00 267.46h-1.5M315.00 257.88h-1.5M315.00 248.30h-3.0M315.00 238.72h-1.5M315.00 229.14h-1.5M315.00 219.56h-1.5" stroke="#333" stroke-width="0.7"/><g style="font-family:'Liberation Sans',Arial,sans-serif;font-size:9.8px" fill="#1a1a1a" stroke="#1a1a1a" stroke-width="0.28"><text x="35.20" y="393.70" text-anchor="end">9</text><text x="35.20" y="350.25" text-anchor="end">10</text><text x="35.20" y="306.80" text-anchor="end">11</text><text x="35.20" y="263.35" text-anchor="end">12</text><text x="35.20" y="219.90" text-anchor="end">13</text><text x="41.80" y="405.00" text-anchor="middle">0</text><text x="90.85" y="405.00" text-anchor="middle">5</text><text x="141.90" y="405.00" text-anchor="middle">10</text><text x="190.55" y="405.00" text-anchor="middle">15</text><text x="310.20" y="394.50" text-anchor="end">0</text><text x="310.20" y="346.10" text-anchor="end">5</text><text x="310.20" y="297.80" text-anchor="end">10</text><text x="310.20" y="249.90" text-anchor="end">15</text><text x="315.50" y="404.50" text-anchor="middle">0</text><text x="366.40" y="404.50" text-anchor="middle">10</text><text x="414.20" y="404.50" text-anchor="middle">20</text><text x="462.00" y="404.50" text-anchor="middle">30</text></g><text x="49.4" y="235.6" style="font-family:'Liberation Sans',Arial,sans-serif;font-size:12.2px" fill="#e4e6ee">(b)</text><text x="323.0" y="234.8" style="font-family:'Liberation Sans',Arial,sans-serif;font-size:12.2px" fill="#e4e6ee">(c)</text><text x="110.8" y="421.9" style="font-family:'Liberation Sans',Arial,sans-serif;font-size:13px" fill="#1a1a1a" stroke="#1a1a1a" stroke-width="0.28"><tspan font-style="italic">ck</tspan><tspan font-style="italic" dy="4.5" style="font-size:8.6px">x</tspan><tspan font-style="italic" dy="-4.5">/ω</tspan><tspan dy="4.3" style="font-size:7.6px" fill="#444" stroke="#444">pe</tspan></text><text x="385.8" y="421.7" style="font-family:'Liberation Sans',Arial,sans-serif;font-size:13px" fill="#1a1a1a" stroke="#1a1a1a" stroke-width="0.28"><tspan font-style="italic">ck</tspan><tspan font-style="italic" dy="4.5" style="font-size:8.6px">x</tspan><tspan font-style="italic" dy="-4.5">/ω</tspan><tspan dy="4.3" style="font-size:7.6px" fill="#444" stroke="#444">pe</tspan></text><text transform="translate(11.2 322.2) rotate(-90)" style="font-family:'Liberation Sans',Arial,sans-serif;font-size:12px" fill="#1a1a1a" stroke="#1a1a1a" stroke-width="0.28"><tspan font-style="italic">ck</tspan><tspan font-style="italic" dy="4.4" style="font-size:8px">z</tspan><tspan font-style="italic" dy="-4.4">/ω</tspan><tspan dy="4.0" style="font-size:7px" fill="#444" stroke="#444">pe</tspan></text><text transform="translate(281.6 322.6) rotate(-90)" style="font-family:'Liberation Sans',Arial,sans-serif;font-size:12px" fill="#1a1a1a" stroke="#1a1a1a" stroke-width="0.28"><tspan font-style="italic">ck</tspan><tspan font-style="italic" dy="4.4" style="font-size:8px">z</tspan><tspan font-style="italic" dy="-4.4">/ω</tspan><tspan dy="4.0" style="font-size:7px" fill="#444" stroke="#444">pe</tspan></text></svg></body></html>
